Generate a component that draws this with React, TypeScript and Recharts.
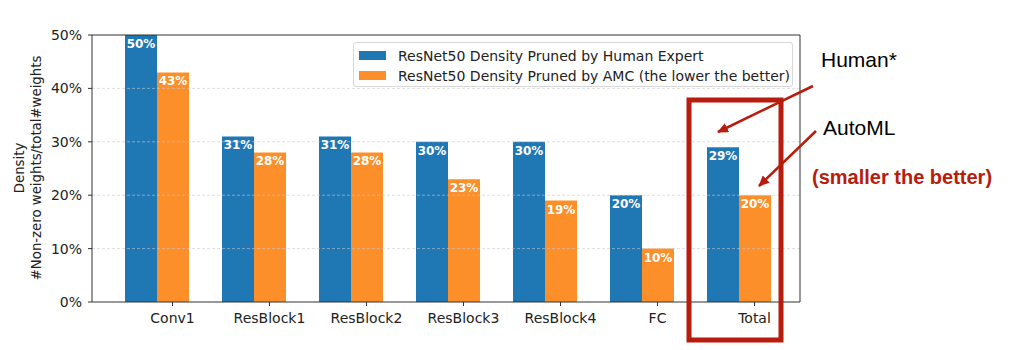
import React from 'react';
import { BarChart, Bar, XAxis, YAxis, ReferenceLine, LabelList } from 'recharts';

const categories = ['Conv1', 'ResBlock1', 'ResBlock2', 'ResBlock3', 'ResBlock4', 'FC', 'Total'];
const humanDensity = [50, 31, 31, 30, 30, 20, 29];
const amcDensity = [43, 28, 28, 23, 19, 10, 20];
const yTicks = [0, 10, 20, 30, 40, 50];
const gridTicks = [10, 20, 30, 40];
const seriesNames = ['ResNet50 Density Pruned by Human Expert', 'ResNet50 Density Pruned by AMC (the lower the better)'];

const BLUE = '#1f77b4';
const ORANGE = '#fd8f2a';
const RED = '#b71c0c';
const FONT = '"DejaVu Sans", sans-serif';

const data = categories.map((c, i) => ({ name: c, human: humanDensity[i], amc: amcDensity[i] }));

const XTick = (props: any) => {
  const { x, y, payload } = props;
  const tx = x + 16;
  return (
    <g>
      <line x1={tx} x2={tx} y1={y} y2={y + 4} stroke="#333" strokeWidth={1} />
      <text x={tx} y={y + 21} textAnchor="middle" fontFamily={FONT} fontSize={14} fill="#222">
        {payload.value}
      </text>
    </g>
  );
};

const BarLabel = (props: any) => {
  const { x, y, width, value } = props;
  return (
    <text x={x + width / 2} y={y + 13} textAnchor="middle" fontFamily={FONT} fontSize={12} fontWeight="bold" fill="#fff">
      {value}%
    </text>
  );
};

export default function App() {
  return (
    <div style={{ position: 'absolute', left: 0, top: 0, width: 1026, height: 350, background: '#fff', overflow: 'hidden' }}>
      <BarChart
        width={1026}
        height={350}
        data={data}
        margin={{ top: 35, right: 226, bottom: 18, left: 42 }}
        barGap={0}
      >
        <XAxis
          dataKey="name"
          height={30}
          padding={{ left: 16, right: 13 }}
          tickLine={false}
          tickSize={0}
          tickMargin={0}
          axisLine={{ stroke: '#333' }}
          tick={<XTick />}
          interval={0}
        />
        <YAxis
          domain={[0, 50]}
          ticks={yTicks}
          width={50}
          tickSize={4}
          tickMargin={6}
          tickLine={{ stroke: '#333' }}
          axisLine={{ stroke: '#333' }}
          tickFormatter={(v: number) => `${v}%`}
          tick={{ fontFamily: FONT, fontSize: 14, fill: '#222' }}
          interval={0}
        />
        <Bar dataKey="human" fill={BLUE} barSize={32} isAnimationActive={false}>
          <LabelList dataKey="human" content={<BarLabel />} />
        </Bar>
        <Bar dataKey="amc" fill={ORANGE} barSize={32} isAnimationActive={false}>
          <LabelList dataKey="amc" content={<BarLabel />} />
        </Bar>
        {gridTicks.map((t) => (
          <ReferenceLine key={t} y={t} stroke="#c8c8c8" strokeOpacity={0.6} strokeDasharray="3 2" strokeWidth={1} />
        ))}
        <ReferenceLine y={50} stroke="#333" strokeWidth={1} />
      </BarChart>

      {/* legend */}
      <div
        style={{
          position: 'absolute', left: 353, top: 42, width: 440, height: 45, boxSizing: 'border-box',
          border: '1px solid #d8d8d8', borderRadius: 3, background: 'rgba(255,255,255,0.85)',
          fontFamily: FONT, fontSize: 14, color: '#222',
        }}
      >
        {seriesNames.map((n, i) => (
          <div key={n} style={{ position: 'absolute', left: 5, top: 3 + i * 20, height: 19, display: 'flex', alignItems: 'center' }}>
            <span style={{ display: 'inline-block', width: 27, height: 9, background: i === 0 ? BLUE : ORANGE, marginRight: 12 }} />
            <span style={{ whiteSpace: 'nowrap' }}>{n}</span>
          </div>
        ))}
      </div>

      {/* frame, y axis label + annotations */}
      <svg width={1026} height={350} style={{ position: 'absolute', left: 0, top: 0, pointerEvents: 'none' }}>
        <line x1={800} y1={35} x2={800} y2={302} stroke="#333" strokeWidth={1} />
        <text transform="translate(24,168) rotate(-90)" textAnchor="middle" fontFamily={FONT} fontSize={13.3} fill="#222">Density</text>
        <text transform="translate(41,168) rotate(-90)" textAnchor="middle" fontFamily={FONT} fontSize={13.3} fill="#222">#Non-zero weights/total#weights</text>

        <defs>
          <marker id="ah" markerWidth="11" markerHeight="10" refX="10" refY="5" orient="auto" markerUnits="userSpaceOnUse">
            <path d="M0,0 L11,5 L0,10 z" fill={RED} />
          </marker>
        </defs>
        <rect x={689} y={100} width={92} height={240} fill="none" stroke={RED} strokeWidth={5} />
        <line x1={813} y1={86} x2={718} y2={132} stroke={RED} strokeWidth={2.5} markerEnd="url(#ah)" />
        <line x1={816} y1={131} x2={759} y2={186} stroke={RED} strokeWidth={2.5} markerEnd="url(#ah)" />
        <text x={821} y={67} fontFamily='"Liberation Sans", Arial, sans-serif' fontSize={21} fill="#000">Human*</text>
        <text x={823} y={135} fontFamily='"Liberation Sans", Arial, sans-serif' fontSize={21} fill="#000">AutoML</text>
        <text x={812} y={184} fontFamily='"Liberation Sans", Arial, sans-serif' fontSize={20} fontWeight="bold" fill={RED}>(smaller the better)</text>
      </svg>
    </div>
  );
}
